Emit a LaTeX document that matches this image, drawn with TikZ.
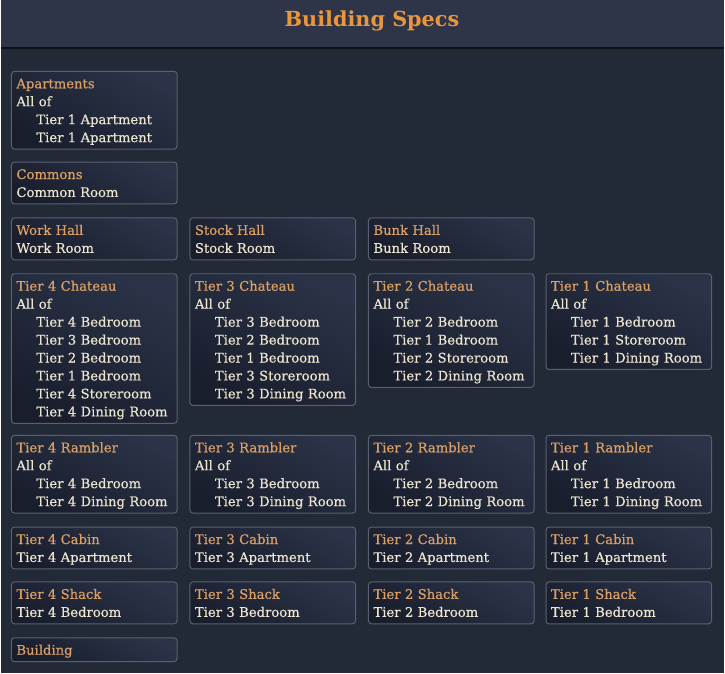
\documentclass[tikz,border=0pt]{standalone}
\usepackage{fontspec}
\setmainfont{DejaVu Serif}[UprightFeatures={FakeBold=0.45}]
\usetikzlibrary{positioning}

\definecolor{bgpanel}{HTML}{232A37}
\definecolor{bghead}{HTML}{2E3548}
\definecolor{headline}{HTML}{0E1118}
\definecolor{boxtop}{HTML}{2A3347}
\definecolor{boxbot}{HTML}{191E2D}
\definecolor{boxline}{HTML}{5A6070}
\definecolor{specname}{HTML}{DCA066}
\definecolor{spectext}{HTML}{EDE5CF}
\definecolor{titleorange}{HTML}{EA963E}

\newcommand{\bstrut}{\rule[-3pt]{0pt}{13.5pt}}
\newcommand{\hd}[1]{\textcolor{specname}{#1}}
\newcommand{\ind}{\hspace*{15pt}}

\tikzset{
  specbox/.style={draw=boxline, line width=0.75pt, rounded corners=2.25pt,
    top color=boxtop, bottom color=boxbot, shading angle=-30, anchor=north west,
    text width=117pt, align=left, inner xsep=3.75pt, inner ysep=2.25pt,
    text=spectext, font={\fontsize{9.9}{13.5}\selectfont},
    execute at begin node=\bstrut, execute at end node=\bstrut}
}

\begin{document}
\begin{tikzpicture}[x=0.75pt, y=-0.75pt]
        % Background
        \fill [bgpanel] (0,0) rectangle (725,675);
        \fill [bghead] (0,0) rectangle (725,47);
        \draw [headline, line width=1.5pt] (0,48) -- (725,48);
        \useasboundingbox (0,0) rectangle (725,675);

        % Title
        \node [font={\bfseries\fontsize{15.6}{18}\selectfont}, text=titleorange] (title) at (372,21) {Building Specs};

        % Halls
        \node [specbox] (apartments) at (10,71) {\hd{Apartments}\\All of\\\ind Tier 1 Apartment\\\ind Tier 1 Apartment};
        \node [specbox] (commons) at (10,162) {\hd{Commons}\\Common Room};
        \node [specbox] (workhall) at (10,218) {\hd{Work Hall}\\Work Room};
        \node [specbox] (stockhall) at (189,218) {\hd{Stock Hall}\\Stock Room};
        \node [specbox] (bunkhall) at (368,218) {\hd{Bunk Hall}\\Bunk Room};

        % Chateaus
        \node [specbox] (chateau4) at (10,274) {\hd{Tier 4 Chateau}\\All of\\\ind Tier 4 Bedroom\\\ind Tier 3 Bedroom\\\ind Tier 2 Bedroom\\\ind Tier 1 Bedroom\\\ind Tier 4 Storeroom\\\ind Tier 4 Dining Room};
        \node [specbox] (chateau3) at (189,274) {\hd{Tier 3 Chateau}\\All of\\\ind Tier 3 Bedroom\\\ind Tier 2 Bedroom\\\ind Tier 1 Bedroom\\\ind Tier 3 Storeroom\\\ind Tier 3 Dining Room};
        \node [specbox] (chateau2) at (368,274) {\hd{Tier 2 Chateau}\\All of\\\ind Tier 2 Bedroom\\\ind Tier 1 Bedroom\\\ind Tier 2 Storeroom\\\ind Tier 2 Dining Room};
        \node [specbox] (chateau1) at (546,274) {\hd{Tier 1 Chateau}\\All of\\\ind Tier 1 Bedroom\\\ind Tier 1 Storeroom\\\ind Tier 1 Dining Room};

        % Ramblers
        \node [specbox] (rambler4) at (10,436) {\hd{Tier 4 Rambler}\\All of\\\ind Tier 4 Bedroom\\\ind Tier 4 Dining Room};
        \node [specbox] (rambler3) at (189,436) {\hd{Tier 3 Rambler}\\All of\\\ind Tier 3 Bedroom\\\ind Tier 3 Dining Room};
        \node [specbox] (rambler2) at (368,436) {\hd{Tier 2 Rambler}\\All of\\\ind Tier 2 Bedroom\\\ind Tier 2 Dining Room};
        \node [specbox] (rambler1) at (546,436) {\hd{Tier 1 Rambler}\\All of\\\ind Tier 1 Bedroom\\\ind Tier 1 Dining Room};

        % Cabins
        \node [specbox] (cabin4) at (10,528) {\hd{Tier 4 Cabin}\\Tier 4 Apartment};
        \node [specbox] (cabin3) at (189,528) {\hd{Tier 3 Cabin}\\Tier 3 Apartment};
        \node [specbox] (cabin2) at (368,528) {\hd{Tier 2 Cabin}\\Tier 2 Apartment};
        \node [specbox] (cabin1) at (546,528) {\hd{Tier 1 Cabin}\\Tier 1 Apartment};

        % Shacks
        \node [specbox] (shack4) at (10,583) {\hd{Tier 4 Shack}\\Tier 4 Bedroom};
        \node [specbox] (shack3) at (189,583) {\hd{Tier 3 Shack}\\Tier 3 Bedroom};
        \node [specbox] (shack2) at (368,583) {\hd{Tier 2 Shack}\\Tier 2 Bedroom};
        \node [specbox] (shack1) at (546,583) {\hd{Tier 1 Shack}\\Tier 1 Bedroom};

        \node [specbox] (building) at (10,639) {\hd{Building}};
\end{tikzpicture}
\end{document}
